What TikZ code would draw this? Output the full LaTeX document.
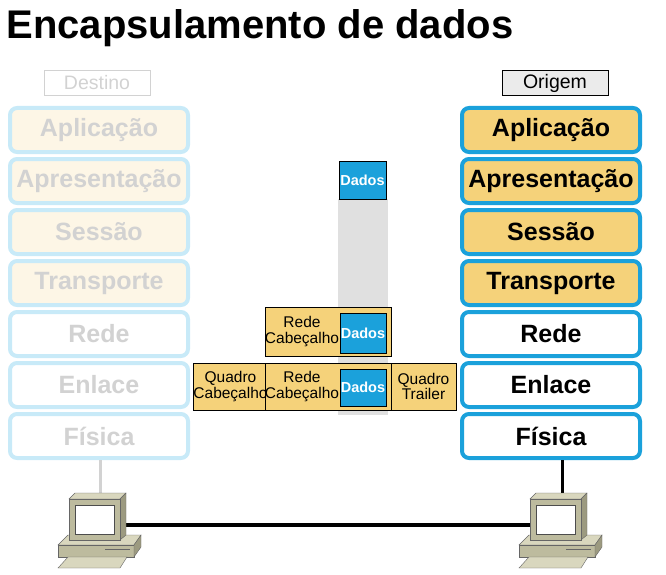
\documentclass[tikz,border=0pt]{standalone}
\usepackage{fontspec}
\setmainfont{Liberation Sans}
\begin{document}
\begin{tikzpicture}[x=1pt,y=-1pt,
 lay/.style={draw=#1,line width=4pt,rounded corners=7pt,minimum width=178pt,minimum height=44pt,font=\bfseries\fontsize{25}{25}\selectfont,inner sep=0pt},
 rl/.style={lay=bR,fill=bY,text=black},
 rlw/.style={lay=bR,fill=white,text=black},
 ll/.style={lay=lB,fill=lY,text=lT},
 llw/.style={lay=lB,fill=white,text=lT},
 pdu/.style={draw=black,fill=pY,line width=0.8pt,font=\fontsize{15.5}{15.5}\selectfont,align=center,inner sep=0pt},
 pt/.style={font=\fontsize{15.5}{15.5}\selectfont,align=center,inner sep=0pt},
 dd/.style={draw=black,fill=dB,text=white,font=\bfseries\fontsize{14.5}{14.5}\selectfont,inner sep=0pt,line width=0.8pt},
 hd/.style={draw=#1,line width=0.8pt,minimum width=106pt,minimum height=25pt,font=\fontsize{19.5}{19.5}\selectfont,inner sep=0pt},
 cp/.style={draw=black!60,line width=0.4pt}]
\definecolor{bR}{HTML}{1BA1DB}\definecolor{bY}{HTML}{F5D27A}
\definecolor{lB}{HTML}{C8EAF8}\definecolor{lY}{HTML}{FDF6E6}\definecolor{lT}{HTML}{D2D2D2}
\definecolor{pY}{HTML}{F5D27A}\definecolor{dB}{HTML}{1BA1DB}
\definecolor{cL}{HTML}{D9D7BE}\definecolor{cM}{HTML}{BDBB9E}\definecolor{cD}{HTML}{9C9A80}
\useasboundingbox (0,0) rectangle (666,575);
\node[anchor=west,font=\bfseries\fontsize{40}{40}\selectfont] (title) at (3,28) {Encapsulamento de dados};
\node[hd=lT,text=lT] (dest) at (97,83) {Destino};
\node[hd=black,fill=black!8] (orig) at (555,83) {Origem};
\fill[black!12] (338,199) rectangle (388,415);
\foreach \n/\t/\y/\s in {a/Aplicação/130/ll,p/Apresentação/181/ll,s/Sessão/232/ll,t/Transporte/283/ll,r/Rede/334/llw,e/Enlace/385/llw,f/Física/436/llw}{
 \node[\s] (L\n) at (99,\y) {\t};}
\foreach \n/\t/\y/\s in {a/Aplicação/130/rl,p/Apresentação/181/rl,s/Sessão/232/rl,t/Transporte/283/rl,r/Rede/334/rlw,e/Enlace/385/rlw,f/Física/436/rlw}{
 \node[\s] (R\n) at (551,\y) {\t};}
\node[dd,minimum width=47pt,minimum height=38pt] (d1) at (362.5,180) {Dados};
\node[pdu,minimum width=126pt,minimum height=49pt] (rn) at (328,331.5) {};
\node[pt] (rnt) at (302,331.5) {Rede\\Cabeçalho};
\node[dd,minimum width=46pt,minimum height=40pt] (d2) at (363,333) {Dados};
\node[pdu,minimum width=69pt,minimum height=47pt] (qh) at (230.5,386.5) {Quadro\\Cabeçalho};
\node[pdu,minimum width=126pt,minimum height=47pt] (rf) at (328,386.5) {};
\node[pt] (rft) at (302,386.5) {Rede\\Cabeçalho};
\node[dd,minimum width=46pt,minimum height=37pt] (d3) at (363,387.5) {Dados};
\node[pdu,minimum width=65pt,minimum height=47pt] (qt) at (423.5,386.5) {Quadro\\Trailer};
\coordinate (P1) at (100,493);
\coordinate (P2) at (562,493);
\coordinate (H1) at (120,525);
\coordinate (H2) at (540,525);
\draw[lT,line width=3pt] (Lf.south -| P1) -- (P1);
\draw[black,line width=3pt] (Rf.south -| P2) -- (P2);
\draw[black,line width=4pt] (H1) -- (H2);
\foreach \x in {100,561}{
\begin{scope}[shift={(\x,0)}]
 \fill[cL,cp] (-42,545) -- (-32,535) -- (41,535) -- (34,545) -- cycle;
 \fill[cM,cp] (-42,545) rectangle (34,557);
 \fill[cD,cp] (34,545) -- (41,535) -- (41,547) -- (34,557) -- cycle;
 \fill[cL,cp] (-42,568) -- (-32,557) -- (27,557) -- (20,568) -- cycle;
 \draw[black!60,line width=0.8pt] (5,549) -- (30,549);
 \fill[cL,cp] (-31,499) -- (-25,493) -- (26,493) -- (20,499) -- cycle;
 \fill[cD,cp] (20,499) -- (26,493) -- (26,535) -- (20,540) -- cycle;
 \fill[cM,cp] (-31,499) rectangle (20,540);
 \fill[white,draw=black!70,line width=0.6pt] (-25,505) rectangle (14,534);
\end{scope}}
\end{tikzpicture}
\end{document}
